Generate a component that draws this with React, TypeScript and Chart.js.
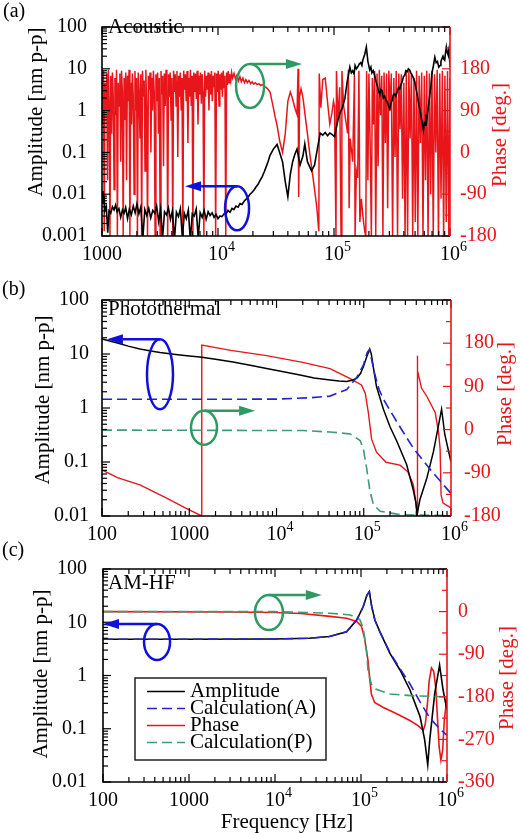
import React, { useEffect, useRef } from 'react';
import { Chart, registerables } from 'chart.js';

Chart.register(...registerables);

const SERIF = '"Liberation Serif", "DejaVu Serif", serif';
const RED = '#e8161b';
const BLUE = '#1010dc';
const GREEN = '#2e9a62';
const CALC_A = '#2424c8';
const CALC_P = '#3f9b74';

type Pt = [number, number];

// ---------------- Panel (a) Acoustic ----------------
const acousticAmplitude: Pt[] = [
  [1000, 0.012], [1020, 0.006], [1040, 0.009], [1060, 0.004], [1090, 0.005], [1120, 0.0012], [1150, 0.004],
  [1190, 0.0035], [1230, 0.005], [1270, 0.0042], [1310, 0.0055], [1350, 0.0038], [1400, 0.0045], [1450, 0.0028],
  [1500, 0.0042], [1550, 0.0035], [1600, 0.0048], [1660, 0.0026], [1720, 0.0044], [1790, 0.0032], [1860, 0.0052],
  [1930, 0.0036], [2000, 0.0058], [2080, 0.0034], [2160, 0.0049], [2250, 0.0009], [2340, 0.0043], [2430, 0.0031],
  [2530, 0.0046], [2630, 0.0027], [2740, 0.0041], [2850, 0.0035], [2960, 0.0052], [3080, 0.0022], [3200, 0.0044],
  [3330, 0.0009], [3460, 0.0038], [3600, 0.0032], [3740, 0.0047], [3890, 0.0025], [4050, 0.004], [4210, 0.0008],
  [4380, 0.0037], [4560, 0.0029], [4740, 0.0045], [4930, 0.0009], [5130, 0.0035], [5330, 0.0026], [5550, 0.0042],
  [5770, 0.0008], [6000, 0.0034], [6240, 0.003], [6490, 0.0044], [6750, 0.0009], [7020, 0.0036], [7300, 0.0028],
  [7600, 0.0041], [7900, 0.0025], [8220, 0.0038], [8550, 0.0031], [8900, 0.0036], [9250, 0.0028], [9620, 0.0033],
  [10000, 0.0026], [10400, 0.003], [10800, 0.0029], [11300, 0.0034], [11700, 0.0033], [12200, 0.0041],
  [12700, 0.0037], [13200, 0.0046], [13700, 0.0043], [14300, 0.0052], [14900, 0.0049], [15500, 0.006],
  [16100, 0.0057], [16800, 0.0068], [17400, 0.0075], [18100, 0.0085], [18900, 0.01], [19600, 0.011],
  [20400, 0.0125], [21300, 0.015], [22100, 0.017], [23000, 0.021], [24000, 0.026], [25000, 0.034],
  [26000, 0.045], [27000, 0.06], [28100, 0.085], [30000, 0.12], [32300, 0.155], [34000, 0.1], [36000, 0.06],
  [38000, 0.02], [40000, 0.0087], [42000, 0.03], [44000, 0.06], [46000, 0.09], [48000, 0.12], [51000, 0.05],
  [54000, 0.083], [56000, 0.16], [59000, 0.06], [64000, 0.036], [68000, 0.05], [71000, 0.1], [76000, 0.29],
  [80000, 0.26], [84000, 0.3], [88000, 0.25], [92000, 0.29], [96000, 0.27], [101000, 0.24], [108000, 0.58],
  [113000, 0.9], [117000, 1.1], [124000, 1.9], [130000, 5], [137000, 11], [141000, 8], [145000, 9],
  [149000, 7.5], [152000, 12], [156000, 10], [160000, 11], [165000, 13], [170000, 14], [174000, 12],
  [177000, 16], [184000, 22], [190000, 33], [196000, 15], [203000, 9.4], [208000, 11], [212000, 8],
  [218000, 9], [224000, 7], [230000, 5], [236000, 4], [242000, 3], [248000, 2.4], [254000, 3.2], [260000, 3],
  [266000, 2], [273000, 2.2], [280000, 1.8], [288000, 1.6], [295000, 1.3], [302000, 1.1], [310000, 1.5],
  [318000, 1.8], [325000, 2.4], [333000, 2.5], [341000, 2.2], [350000, 2.8], [360000, 3.6], [369000, 3.3],
  [378000, 4.2], [388000, 5], [397000, 6.5], [407000, 7], [417000, 9], [428000, 8.5], [438000, 10],
  [449000, 9.4], [460000, 8], [472000, 7], [484000, 6], [496000, 5], [508000, 3.5], [520000, 2.5],
  [534000, 1.6], [548000, 1.1], [560000, 0.8], [570000, 0.6], [580000, 0.45], [590000, 0.34], [600000, 0.5],
  [610000, 0.45], [620000, 0.8], [630000, 0.6], [650000, 1.2], [670000, 2.4], [685000, 4], [700000, 8],
  [720000, 12], [740000, 19], [760000, 14], [780000, 15], [800000, 11], [820000, 12], [835000, 15],
  [850000, 17], [870000, 20], [885000, 17], [900000, 16], [915000, 24], [930000, 33], [945000, 25],
  [960000, 22], [980000, 30], [1000000, 11],
];

const acousticPhase: Pt[] = [
  [1000, 160], [1015, 60], [1030, 175], [1045, -170], [1062, 150], [1080, 90], [1098, 170], [1116, -60],
  [1134, 178], [1152, 110], [1171, -180], [1190, 165], [1210, 40], [1230, 172], [1250, 120], [1271, -80],
  [1292, 160], [1313, 80], [1335, 178], [1357, -180], [1380, 150], [1402, 100], [1426, 170], [1450, -20],
  [1474, 176], [1498, 130], [1523, -180], [1549, 160], [1575, 70], [1601, 172], [1628, -60], [1655, 165],
  [1683, 110], [1711, 178], [1740, -180], [1769, 150], [1799, 60], [1829, 170], [1860, 120], [1891, -90],
  [1923, 175], [1955, 90], [1988, 160], [2021, -180], [2055, 172], [2090, 130], [2125, 30], [2161, 168],
  [2197, -180], [2234, 176], [2272, 120], [2310, 155], [2349, -40], [2388, 178], [2428, 100], [2469, -180],
  [2511, 165], [2553, 135], [2596, 172], [2639, 0], [2684, 160], [2729, 90], [2775, 176], [2821, 130],
  [2869, -180], [2917, 168], [2966, 110], [3016, 172], [3067, 40], [3118, 160], [3171, -180], [3224, 175],
  [3278, 125], [3334, 165], [3390, -30], [3447, 170], [3505, 100], [3564, 178], [3623, 140], [3684, -180],
  [3746, 168], [3810, 120], [3874, 172], [3939, 70], [4005, 160], [4073, -180], [4141, 176], [4211, 130],
  [4282, 168], [4354, 100], [4428, 175], [4502, -10], [4578, 165], [4655, 120], [4733, 172], [4813, 90],
  [4894, 160], [4976, -180], [5060, 176], [5145, 135], [5232, 168], [5320, 110], [5410, 175], [5501, 20],
  [5593, 160], [5687, 120], [5783, 178], [5881, 100], [5980, 165], [6080, -180], [6183, 172], [6287, 130],
  [6393, 170], [6500, 115], [6610, 176], [6721, 60], [6834, 165], [6950, 125], [7067, 172], [7186, 105],
  [7307, 168], [7430, 130], [7555, -180], [7682, 176], [7812, 120], [7943, 165], [8077, 135], [8213, 172],
  [8351, 90], [8492, 168], [8635, 125], [8780, 175], [8928, 110], [9079, 165], [9231, 140], [9387, 172],
  [9545, -180], [9706, 170], [9869, 130], [10035, 176], [10204, 100], [10376, 168], [10551, 135],
  [10729, 172], [10910, 120], [11094, 176], [11281, 140], [11471, 165], [11664, -180], [11861, 172],
  [12061, 145], [12264, 175], [12471, 150], [12681, 168], [12895, 155], [13100, 172],
  [13350, 160], [13750, 170], [14150, 158], [14550, 166], [15000, 154], [15450, 163], [15900, 152],
  [16400, 160], [16900, 150], [17400, 157], [17900, 150], [18500, 155], [19100, 148], [19700, 152],
  [20300, 147], [21000, 150], [21700, 146], [22500, 148], [23300, 144], [24100, 146], [25000, 142],
  [26000, 140], [27000, 136], [28100, 130], [29500, 105], [31000, 78], [32300, 58], [34000, 25], [36000, 0],
  [38000, 40], [40000, 110], [42000, 130], [44000, 115], [46000, 95], [48000, 82], [49000, 180], [49600, -96],
  [50500, 120], [52000, 137], [54000, 118], [57000, 70], [59000, 41], [62000, -6], [66000, -55],
  [71000, -117], [74000, -170], [74600, 170], [77000, 96], [80000, 157], [84000, 160], [88000, 108],
  [92000, 61], [96000, 85], [99000, 110], [101000, 98], [104000, -180], [105000, 175], [108000, 70],
  [112000, 140], [115000, -180], [117000, 175], [121000, 100], [126000, 70], [131000, 41], [133000, 178],
  [135000, -120], [138000, 30], [145000, -20], [150000, 165], [152000, -180], [156000, -40], [160000, -55],
  [164000, 176], [167000, -150], [172000, -100], [178000, -140], [184000, -170], [188000, -180],
  [191000, 175], [196000, -60], [200000, 170], [205000, 20], [210000, -180], [214000, 160], [219000, 60],
  [224000, 175], [229000, -180], [235000, 170], [240000, -30], [246000, 178], [252000, 80], [258000, 165],
  [264000, -180], [270000, 172], [277000, 20], [284000, 170], [290000, -120], [297000, 176], [304000, 90],
  [312000, 170], [320000, -180], [328000, 160], [336000, -10], [344000, 175], [353000, -180], [362000, 170],
  [371000, 50], [380000, 168], [390000, -100], [400000, 150], [410000, -180], [420000, 172], [431000, -180],
  [442000, 176], [453000, 30], [465000, 170], [477000, -180], [489000, 160], [502000, -150], [515000, 176],
  [528000, -180], [542000, 165], [556000, 20], [570000, 172], [585000, -180], [600000, 165], [615000, -60],
  [630000, 176], [647000, -180], [664000, 170], [681000, -90], [699000, 176], [717000, -180], [736000, 168],
  [755000, 0], [775000, 178], [795000, -180], [816000, 170], [837000, -100], [859000, 176], [881000, -180],
  [904000, 165], [928000, -150], [952000, 175], [977000, -180], [1000000, 160],
];

// ---------------- Panel (b) Photothermal ----------------
const photothermalAmplitude: Pt[] = [
  [100, 19], [150, 16], [200, 14], [272, 12.4], [350, 11.5], [462, 10.7], [700, 9.8], [1000, 9.2],
  [1330, 8.8], [2000, 8.0], [3170, 7.1], [5000, 6.2], [7700, 5.4], [12000, 4.7], [18600, 4.1],
  [27000, 3.6], [41000, 3.3], [52000, 3.15], [64000, 3.1], [75000, 3.3], [84000, 3.6], [92000, 4.4],
  [99000, 5.8], [108000, 8.8], [117000, 12.4], [122000, 10], [128000, 6], [140000, 2.5], [168000, 0.95],
  [200000, 0.45], [240000, 0.24], [310000, 0.09], [370000, 0.03], [395000, 0.018], [410000, 0.011],
  [440000, 0.02], [530000, 0.051], [630000, 0.157], [720000, 0.48], [780000, 0.95], [850000, 0.32],
  [1000000, 0.1],
];

const photothermalCalcA: Pt[] = [
  [100, 1.45], [1000, 1.45], [10000, 1.46], [25000, 1.55], [41000, 1.66], [64000, 2.2], [84000, 3.8],
  [99000, 6.2], [110000, 10.8], [116000, 12], [121000, 9], [133000, 4.4], [150000, 2.2], [168000, 1.45],
  [240000, 0.55], [370000, 0.18], [600000, 0.068], [1000000, 0.026],
];

const photothermalPhase: Pt[] = [
  [100, -84], [150, -100], [272, -115], [550, -143], [900, -163], [1390, -180], [1391, 176], [3000, 165],
  [7700, 154], [20000, 140], [41000, 127], [70000, 106], [94000, 93], [104000, 76], [113000, 35],
  [123000, -20], [140000, -47], [180000, -68], [260000, -74], [320000, -88], [370000, -115],
  [390000, -143], [405000, -173], [409000, -180], [410000, 154], [416000, 123], [460000, 86],
  [530000, 69], [660000, 35], [720000, -6], [750000, -40], [770000, -136], [810000, -153],
  [1000000, -163],
];

const photothermalCalcP: Pt[] = [
  [100, -1], [20000, -2], [41000, -5], [70000, -9], [91000, -23], [99000, -40], [108000, -81],
  [118000, -129], [129000, -156], [154000, -170], [240000, -176], [370000, -178], [1000000, -179],
];

// ---------------- Panel (c) AM-HF ----------------
const amhfAmplitude: Pt[] = [
  [100, 4.8], [1000, 4.8], [10000, 4.85], [25000, 5.0], [43000, 5.4], [68000, 6.6], [89000, 11],
  [106000, 19.5], [117000, 32], [125000, 37.5], [133000, 20], [145000, 11], [166000, 6.6], [217000, 2.6],
  [284000, 1.27], [370000, 0.54], [486000, 0.17], [550000, 0.062], [597000, 0.021], [630000, 0.062],
  [720000, 0.46], [820000, 1.57], [900000, 0.54], [980000, 0.26], [1000000, 0.23],
];

const amhfCalcA: Pt[] = [
  [100, 4.8], [1000, 4.8], [10000, 4.85], [25000, 5.0], [43000, 5.4], [68000, 6.6], [89000, 11],
  [106000, 19.5], [117000, 32], [125000, 37.5], [133000, 20], [145000, 11], [166000, 6.6], [217000, 2.7],
  [284000, 1.35], [370000, 0.7], [486000, 0.32], [630000, 0.16], [820000, 0.1], [1000000, 0.075],
];

const amhfPhase: Pt[] = [
  [100, 0], [3000, -1], [10000, -2], [20000, -4], [43700, -10], [68000, -14], [89000, -21], [101000, -31],
  [110000, -56], [121000, -105], [126000, -140], [132000, -174], [144000, -192], [180000, -202],
  [260000, -216], [370000, -230], [460000, -241], [530000, -251], [560000, -237], [597000, -188],
  [620000, -147], [660000, -119], [700000, -126], [740000, -160], [770000, -216], [810000, -286],
  [850000, -314], [890000, -293], [930000, -230], [1000000, -180],
];

const amhfCalcP: Pt[] = [
  [100, 0], [10000, 0], [43700, -3.5], [75000, -7], [97000, -17], [106000, -35], [115000, -77],
  [121000, -126], [132000, -153], [150000, -164], [217000, -174], [410000, -178], [1000000, -180],
];

// ---------------- Ticks ----------------
const freqTicksA = [1000, 1e4, 1e5, 1e6];
const freqTicksBC = [100, 1000, 1e4, 1e5, 1e6];
const ampTicksA = [0.001, 0.01, 0.1, 1, 10, 100];
const ampTicksBC = [0.01, 0.1, 1, 10, 100];
const phaseTicksAB = [-180, -90, 0, 90, 180];
const phaseTicksC = [-360, -270, -180, -90, 0];

interface Mark { x: number; y: number; axis: 'y' | 'p'; rx: number; ry: number; to: number; color: string }
interface Panel {
  top: number; height: number;
  plotTop: number; plotBottom: number; plotLeft: number; plotRight: number;
  xMin: number; xMax: number; xTicks: number[];
  yMin: number; yMax: number; yTicks: number[];
  pMin: number; pMax: number; pTicks: number[];
  amp: Pt[]; calcA?: Pt[]; phase: Pt[]; calcP?: Pt[];
  ampWidth: number; phaseWidth: number;
  letter: string; letterPos: [number, number];
  name: string; namePos: [number, number];
  leftTitle: [number, number]; rightTitle: [number, number];
  bottomTitle?: [number, number];
  yPad: number; pPad: number;
  marks: Mark[];
  legend?: { x: number; y: number; w: number; h: number };
}

const panels: Panel[] = [
  {
    top: 0, height: 280, plotTop: 17, plotBottom: 236, plotLeft: 102, plotRight: 450,
    xMin: 1000, xMax: 1e6, xTicks: freqTicksA, yMin: 0.001, yMax: 100, yTicks: ampTicksA,
    pMin: -180, pMax: 270, pTicks: phaseTicksAB,
    amp: acousticAmplitude, phase: acousticPhase, ampWidth: 1.6, phaseWidth: 1.5,
    letter: '(a)', letterPos: [3, 12], name: 'Acoustic', namePos: [108, 33],
    leftTitle: [36, 112], rightTitle: [500, 135], yPad: 15, pPad: 10,
    marks: [
      { x: 14600, y: 0.0046, axis: 'y', rx: 12, ry: 22, to: 5200, color: BLUE },
      { x: 18900, y: 143, axis: 'p', rx: 14, ry: 22, to: 53000, color: GREEN },
    ],
  },
  {
    top: 275, height: 275, plotTop: 295, plotBottom: 516, plotLeft: 102, plotRight: 451,
    xMin: 100, xMax: 1e6, xTicks: freqTicksBC, yMin: 0.01, yMax: 100, yTicks: ampTicksBC,
    pMin: -180, pMax: 270, pTicks: phaseTicksAB,
    amp: photothermalAmplitude, calcA: photothermalCalcA, phase: photothermalPhase, calcP: photothermalCalcP,
    ampWidth: 1.5, phaseWidth: 1.4,
    letter: '(b)', letterPos: [2, 290], name: 'Photothermal', namePos: [108, 315],
    leftTitle: [43, 400], rightTitle: [505, 394], yPad: 13, pPad: 13,
    marks: [
      { x: 462, y: 4.2, axis: 'y', rx: 13, ry: 35, to: 114, color: BLUE },
      { x: 1476, y: 4, axis: 'p', rx: 13, ry: 17, to: 5680, color: GREEN },
    ],
  },
  {
    top: 535, height: 298, plotTop: 569, plotBottom: 782, plotLeft: 103, plotRight: 447,
    xMin: 100, xMax: 1e6, xTicks: freqTicksBC, yMin: 0.01, yMax: 100, yTicks: ampTicksBC,
    pMin: -360, pMax: 90, pTicks: phaseTicksC,
    amp: amhfAmplitude, calcA: amhfCalcA, phase: amhfPhase, calcP: amhfCalcP,
    ampWidth: 1.6, phaseWidth: 1.6,
    letter: '(c)', letterPos: [2, 551], name: 'AM-HF', namePos: [108, 589],
    leftTitle: [41, 674], rightTitle: [507, 678], bottomTitle: [287, 822], yPad: 16, pPad: 11,
    marks: [
      { x: 425, y: 4.25, axis: 'y', rx: 13, ry: 18, to: 100, color: BLUE },
      { x: 8500, y: -2, axis: 'p', rx: 14, ry: 17.5, to: 35000, color: GREEN },
    ],
    legend: { x: 135, y: 678, w: 191, h: 82 },
  },
];

const toXY = (arr: Pt[]) => arr.map(([x, y]) => ({ x, y }));

function makeDecor(cfg: Panel) {
  return {
    id: 'decor',
    afterDraw(chart: any) {
      const ctx: CanvasRenderingContext2D = chart.ctx;
      const { left, right, top, bottom } = chart.chartArea;
      const xs = chart.scales.x, ys = chart.scales.y, ps = chart.scales.p;
      const oy = cfg.top;
      ctx.save();
      const seg = (x1: number, y1: number, x2: number, y2: number, color: string, w: number) => {
        ctx.strokeStyle = color; ctx.lineWidth = w;
        ctx.beginPath(); ctx.moveTo(x1, y1); ctx.lineTo(x2, y2); ctx.stroke();
      };
      const logTicks = (min: number, max: number) => {
        const out: [number, boolean][] = [];
        for (let d = Math.floor(Math.log10(min)); d <= Math.ceil(Math.log10(max)); d++) {
          for (let k = 1; k <= 9; k++) {
            const v = k * Math.pow(10, d);
            if (v >= min * 0.9999 && v <= max * 1.0001) out.push([v, k === 1]);
          }
        }
        return out;
      };
      for (const [v, maj] of logTicks(cfg.xMin, cfg.xMax)) {
        const px = xs.getPixelForValue(v);
        const L = maj ? 8 : 5;
        seg(px, bottom, px, bottom - L, '#000', 1.2);
        seg(px, top, px, top + L, '#000', 1.2);
      }
      for (const [v, maj] of logTicks(cfg.yMin, cfg.yMax)) {
        const py = ys.getPixelForValue(v);
        seg(left, py, left + (maj ? 8 : 5), py, '#000', 1.2);
      }
      for (let v = cfg.pMin; v <= cfg.pMax; v += 45) {
        const py = ps.getPixelForValue(v);
        seg(right, py, right - (v % 90 === 0 ? 8 : 5), py, RED, 1.2);
      }
      // frame
      ctx.strokeStyle = '#000'; ctx.lineWidth = 1.6;
      ctx.beginPath(); ctx.moveTo(right, top); ctx.lineTo(left, top); ctx.lineTo(left, bottom); ctx.lineTo(right, bottom); ctx.stroke();
      seg(right, top, right, bottom, RED, 1.6);

      // x tick labels
      ctx.fillStyle = '#000';
      ctx.textBaseline = 'alphabetic';
      const by = bottom + 24;
      for (const v of cfg.xTicks) {
        const px = xs.getPixelForValue(v);
        const e = Math.round(Math.log10(v));
        ctx.font = `20px ${SERIF}`;
        if (e <= 3) {
          ctx.textAlign = 'center';
          ctx.fillText(String(v), px, by);
        } else {
          const wb = ctx.measureText('10').width;
          ctx.textAlign = 'left';
          ctx.fillText('10', px - wb / 2, by);
          ctx.font = `14px ${SERIF}`;
          ctx.fillText(String(e), px + wb / 2, by - 9);
        }
      }

      // titles
      const vtext = (txt: string, x: number, y: number, color: string) => {
        ctx.save();
        ctx.translate(x, y - oy);
        ctx.rotate(-Math.PI / 2);
        ctx.textAlign = 'center'; ctx.textBaseline = 'middle';
        ctx.fillStyle = color; ctx.font = `21px ${SERIF}`;
        ctx.fillText(txt, 0, 0);
        ctx.restore();
      };
      vtext('Amplitude [nm p-p]', cfg.leftTitle[0], cfg.leftTitle[1], '#000');
      vtext('Phase [deg.]', cfg.rightTitle[0], cfg.rightTitle[1], RED);
      ctx.fillStyle = '#000';
      ctx.font = `21px ${SERIF}`;
      if (cfg.bottomTitle) {
        ctx.textAlign = 'center'; ctx.textBaseline = 'middle';
        ctx.fillText('Frequency [Hz]', cfg.bottomTitle[0], cfg.bottomTitle[1] - oy);
      }
      ctx.font = `20px ${SERIF}`;
      ctx.textAlign = 'left'; ctx.textBaseline = 'middle';
      ctx.fillText(cfg.letter, cfg.letterPos[0], cfg.letterPos[1] - oy);
      ctx.font = `21px ${SERIF}`;
      ctx.textBaseline = 'alphabetic';
      ctx.fillText(cfg.name, cfg.namePos[0], cfg.namePos[1] - oy);

      // annotations: ellipses with arrows
      for (const m of cfg.marks) {
        const sc = m.axis === 'y' ? ys : ps;
        const cx = xs.getPixelForValue(m.x), cy = sc.getPixelForValue(m.y);
        ctx.strokeStyle = m.color; ctx.fillStyle = m.color; ctx.lineWidth = 2.5;
        ctx.beginPath(); ctx.ellipse(cx, cy, m.rx, m.ry, 0, 0, Math.PI * 2); ctx.stroke();
        const ay = cy - m.ry;
        const tx = xs.getPixelForValue(m.to);
        const dir = Math.sign(tx - cx);
        const hl = 16, hw = 5;
        ctx.beginPath(); ctx.moveTo(cx, ay); ctx.lineTo(tx - dir * hl, ay); ctx.stroke();
        ctx.beginPath(); ctx.moveTo(tx, ay); ctx.lineTo(tx - dir * hl, ay - hw); ctx.lineTo(tx - dir * hl, ay + hw); ctx.closePath(); ctx.fill();
      }

      // legend
      if (cfg.legend) {
        const L = cfg.legend;
        const lx = L.x, ly = L.y - oy;
        ctx.fillStyle = '#fff';
        ctx.fillRect(lx, ly, L.w, L.h);
        ctx.strokeStyle = '#222'; ctx.lineWidth = 1.5; ctx.setLineDash([]);
        ctx.strokeRect(lx, ly, L.w, L.h);
        const ds = chart.data.datasets;
        ds.forEach((d: any, i: number) => {
          const ry = ly + 13.5 + i * 17;
          ctx.strokeStyle = d.borderColor; ctx.lineWidth = d.borderWidth;
          ctx.setLineDash(d.borderDash || []);
          ctx.beginPath(); ctx.moveTo(lx + 12, ry); ctx.lineTo(lx + 50, ry); ctx.stroke();
          ctx.setLineDash([]);
          ctx.fillStyle = '#000'; ctx.font = `21px ${SERIF}`;
          ctx.textAlign = 'left'; ctx.textBaseline = 'middle';
          ctx.fillText(d.label, lx + 55, ry);
        });
      }
      ctx.restore();
    },
  };
}

function makeChart(canvas: HTMLCanvasElement, cfg: Panel) {
  const datasets: any[] = [];
  datasets.push({ label: 'Amplitude', data: toXY(cfg.amp), borderColor: '#000', borderWidth: cfg.ampWidth, yAxisID: 'y', order: 2 });
  if (cfg.calcA) datasets.push({ label: 'Calculation(A)', data: toXY(cfg.calcA), borderColor: CALC_A, borderWidth: 1.6, borderDash: [10, 5], yAxisID: 'y', order: 0 });
  datasets.push({ label: 'Phase', data: toXY(cfg.phase), borderColor: RED, borderWidth: cfg.phaseWidth, yAxisID: 'p', order: 3 });
  if (cfg.calcP) datasets.push({ label: 'Calculation(P)', data: toXY(cfg.calcP), borderColor: CALC_P, borderWidth: 1.6, borderDash: [10, 5], yAxisID: 'p', order: 1 });

  const tickFont = { family: SERIF, size: 20 };
  return new Chart(canvas, {
    type: 'line',
    data: { datasets },
    options: {
      responsive: false,
      animation: false,
      layout: { padding: { top: cfg.plotTop - cfg.top, left: 0, right: 0, bottom: 0 } },
      elements: { point: { radius: 0 }, line: { tension: 0, fill: false } },
      plugins: { legend: { display: false }, tooltip: { enabled: false } },
      scales: {
        x: {
          type: 'logarithmic', position: 'bottom', min: cfg.xMin, max: cfg.xMax,
          grid: { display: false, drawTicks: false }, border: { display: false },
          ticks: { display: false },
          afterFit: (s: any) => { s.height = cfg.top + cfg.height - cfg.plotBottom; },
        },
        y: {
          type: 'logarithmic', position: 'left', min: cfg.yMin, max: cfg.yMax,
          grid: { display: false, drawTicks: false }, border: { display: false },
          afterBuildTicks: (s: any) => { s.ticks = cfg.yTicks.map((v) => ({ value: v })); },
          afterFit: (s: any) => { s.width = cfg.plotLeft; },
          ticks: { autoSkip: false, padding: cfg.yPad, color: '#000', font: tickFont, callback: (v: any) => String(v) },
        },
        p: {
          type: 'linear', position: 'right', min: cfg.pMin, max: cfg.pMax,
          grid: { display: false, drawTicks: false }, border: { display: false },
          afterBuildTicks: (s: any) => { s.ticks = cfg.pTicks.map((v) => ({ value: v })); },
          afterFit: (s: any) => { s.width = 520 - cfg.plotRight; },
          ticks: { autoSkip: false, padding: cfg.pPad, color: RED, font: tickFont, callback: (v: any) => String(v) },
        },
      },
    } as any,
    plugins: [makeDecor(cfg)],
  });
}

function PanelCanvas({ cfg }: { cfg: Panel }) {
  const ref = useRef<HTMLCanvasElement>(null);
  useEffect(() => {
    if (!ref.current) return;
    const chart = makeChart(ref.current, cfg);
    return () => chart.destroy();
  }, [cfg]);
  return (
    <canvas
      ref={ref}
      width={520}
      height={cfg.height}
      style={{ position: 'absolute', left: 0, top: cfg.top, width: 520, height: cfg.height }}
    />
  );
}

export default function App() {
  return (
    <div style={{ position: 'absolute', left: 0, top: 0, width: 520, height: 833, background: '#fff', overflow: 'hidden' }}>
      {panels.map((p, i) => (
        <PanelCanvas key={i} cfg={p} />
      ))}
    </div>
  );
}
